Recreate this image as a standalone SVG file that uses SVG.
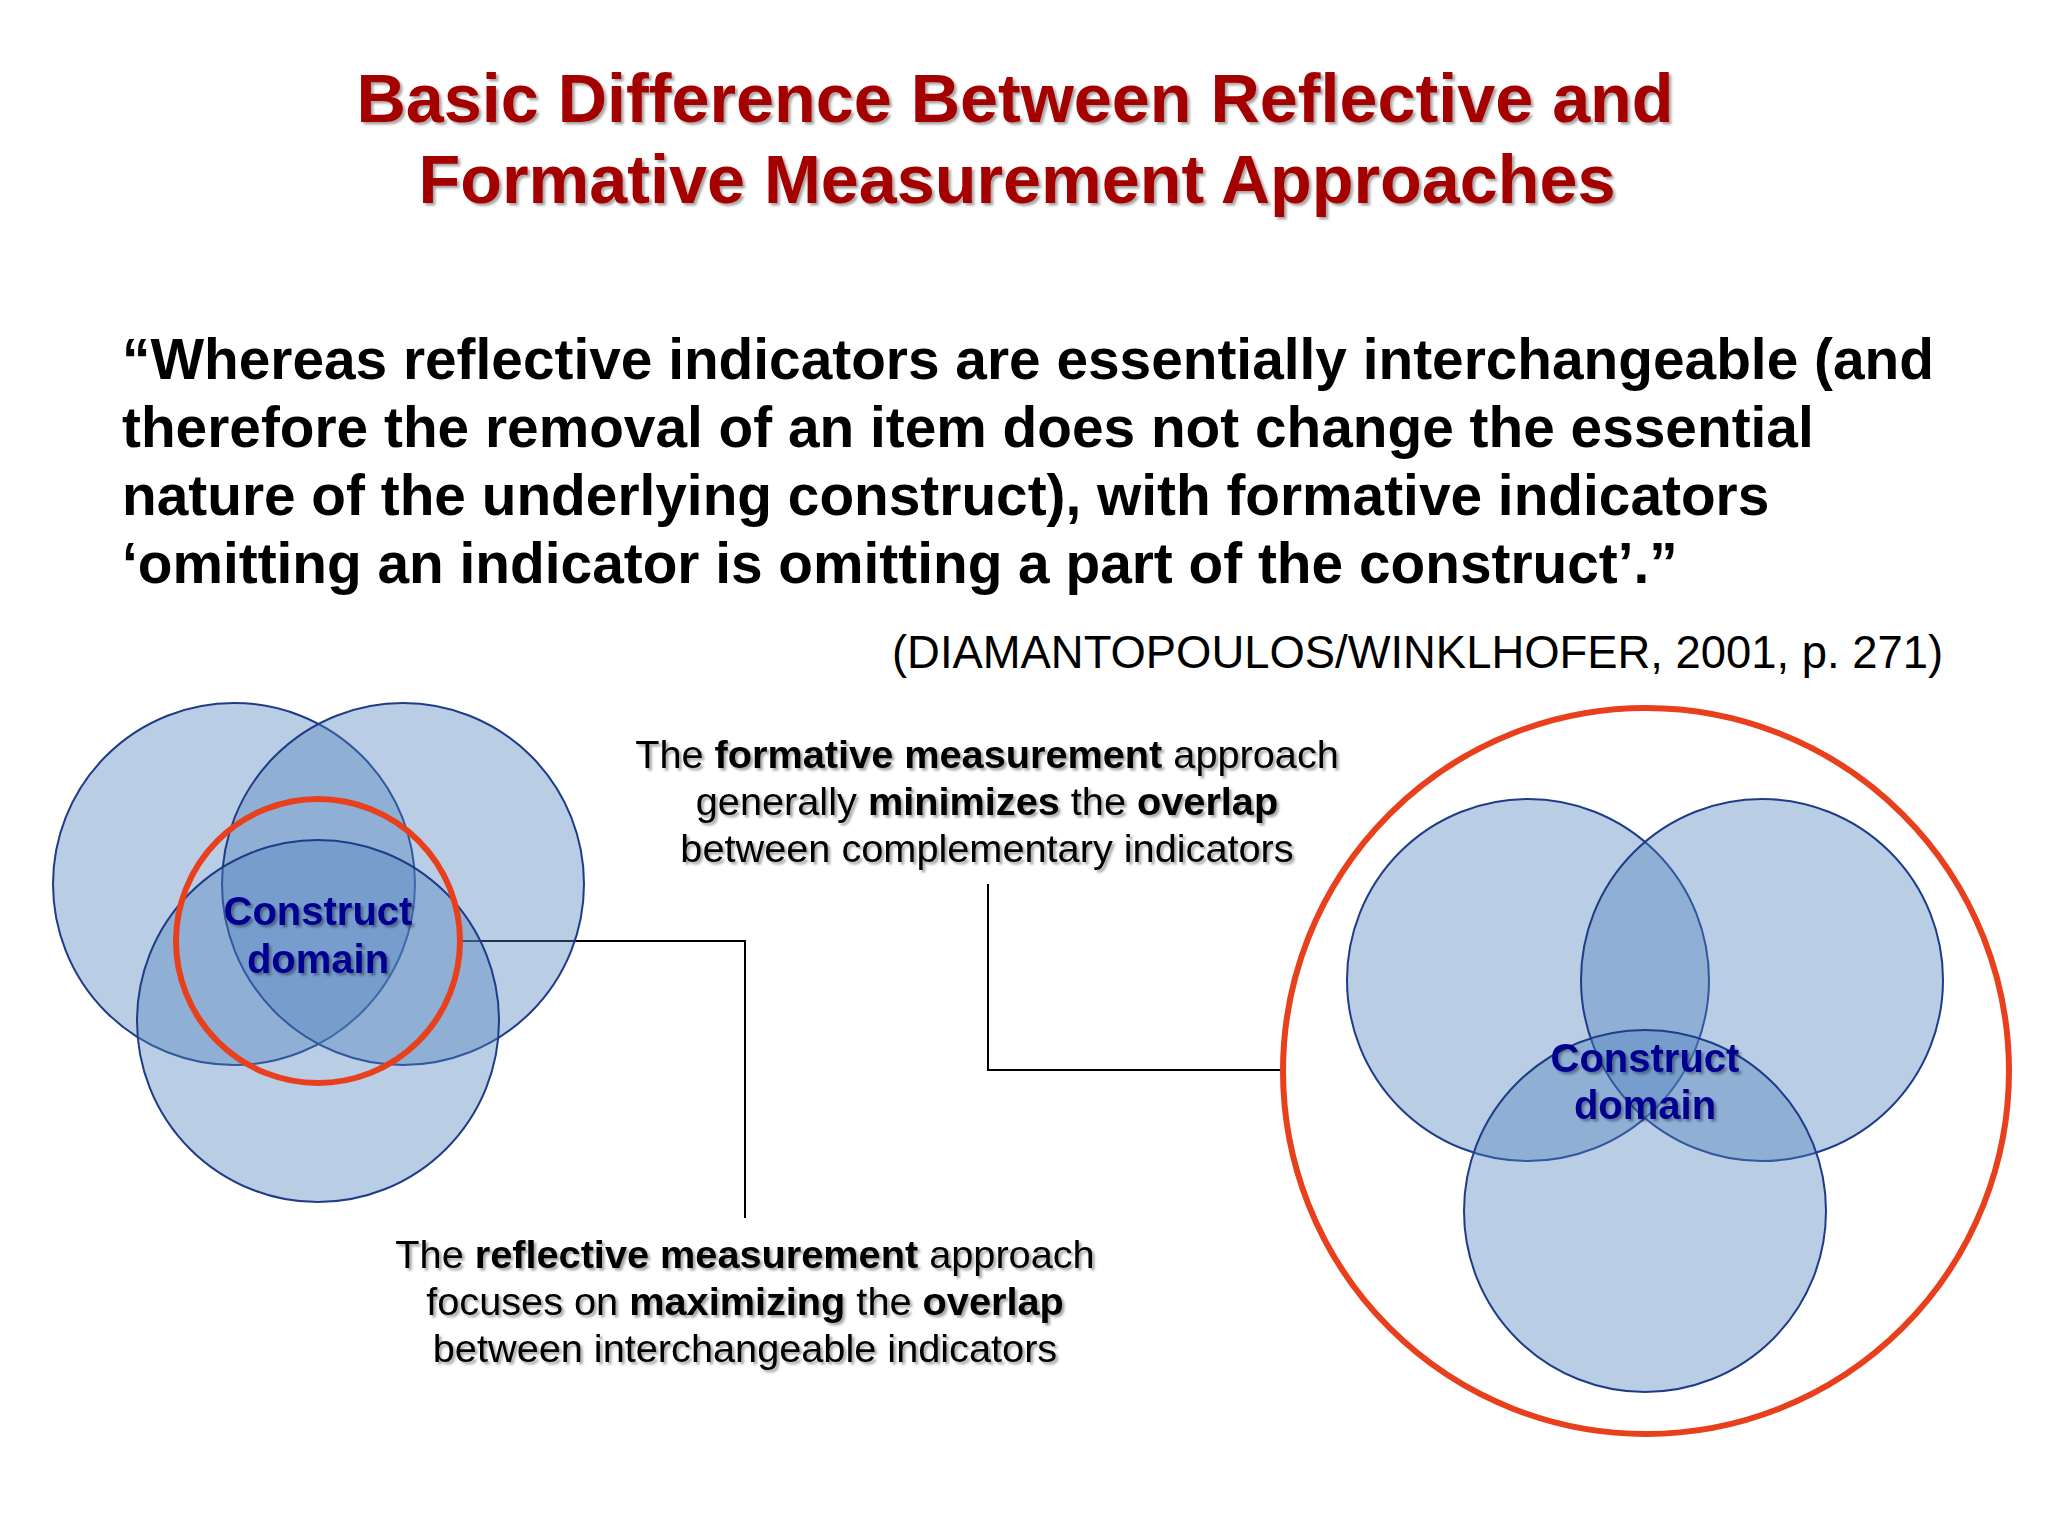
<svg xmlns="http://www.w3.org/2000/svg" width="2048" height="1536" viewBox="0 0 2048 1536">
<defs>
<filter id="sh" x="-5%" y="-20%" width="110%" height="140%">
<feDropShadow dx="2.5" dy="2.5" stdDeviation="1.2" flood-color="#000" flood-opacity="0.35"/>
</filter>
<style>
.title{font-family:"Liberation Sans",Arial,sans-serif;font-weight:bold;font-size:68.3px;fill:#A50000;text-anchor:middle}
.quote{font-family:"Liberation Sans",Arial,sans-serif;font-weight:bold;font-size:56.8px;fill:#000}
.cite{font-family:"Liberation Sans",Arial,sans-serif;font-size:45.4px;fill:#000;text-anchor:end}
.lbl{font-family:"Liberation Sans",Arial,sans-serif;font-size:39.7px;fill:#000;text-anchor:middle}
.b{font-weight:bold}
.cd{font-family:"Liberation Sans",Arial,sans-serif;font-weight:bold;font-size:40px;fill:#000090;text-anchor:middle}
.ind{fill:#4F81BD;fill-opacity:0.4;stroke:#1F3C88;stroke-width:2}
.dom{fill:none;stroke:#E8401C;stroke-width:6}
.conn{fill:none;stroke:#000;stroke-width:2}
</style>
</defs>
<rect width="2048" height="1536" fill="#fff"/>
<g id="title" filter="url(#sh)">
<text class="title" x="1015" y="122">Basic Difference Between Reflective and</text>
<text class="title" x="1017" y="203">Formative Measurement Approaches</text>
</g>
<g id="quote">
<text class="quote" x="122" y="379">“Whereas reflective indicators are essentially interchangeable (and</text>
<text class="quote" x="122" y="447">therefore the removal of an item does not change the essential</text>
<text class="quote" x="122" y="515">nature of the underlying construct), with formative indicators</text>
<text class="quote" x="122" y="583">‘omitting an indicator is omitting a part of the construct’.”</text>
<text class="cite" x="1943" y="668">(DIAMANTOPOULOS/WINKLHOFER, 2001, p. 271)</text>
</g>
<g id="connectors">
<polyline class="conn" points="460,941 745,941 745,1218"/>
<polyline class="conn" points="988,884 988,1070 1283,1070"/>
</g>
<g id="reflective-diagram">
<circle class="ind" cx="234" cy="884" r="181"/>
<circle class="ind" cx="403" cy="884" r="181"/>
<circle class="ind" cx="318" cy="1021" r="181"/>
<circle class="dom" cx="318" cy="941" r="142"/>
<g filter="url(#sh)">
<text class="cd" x="318" y="925">Construct</text>
<text class="cd" x="318" y="973">domain</text>
</g>
</g>
<g id="formative-diagram">
<circle class="dom" cx="1646" cy="1071" r="363"/>
<circle class="ind" cx="1528" cy="980" r="181"/>
<circle class="ind" cx="1762" cy="980" r="181"/>
<circle class="ind" cx="1645" cy="1211" r="181"/>
<g filter="url(#sh)">
<text class="cd" x="1645" y="1072">Construct</text>
<text class="cd" x="1645" y="1119">domain</text>
</g>
</g>
<g id="formative-label" filter="url(#sh)">
<text class="lbl" x="987" y="768">The <tspan class="b">formative measurement</tspan> approach</text>
<text class="lbl" x="987" y="815">generally <tspan class="b">minimizes</tspan> the <tspan class="b">overlap</tspan></text>
<text class="lbl" x="987" y="862">between complementary indicators</text>
</g>
<g id="reflective-label" filter="url(#sh)">
<text class="lbl" x="745" y="1268">The <tspan class="b">reflective measurement</tspan> approach</text>
<text class="lbl" x="745" y="1315">focuses on <tspan class="b">maximizing</tspan> the <tspan class="b">overlap</tspan></text>
<text class="lbl" x="745" y="1362">between interchangeable indicators</text>
</g>
</svg>
